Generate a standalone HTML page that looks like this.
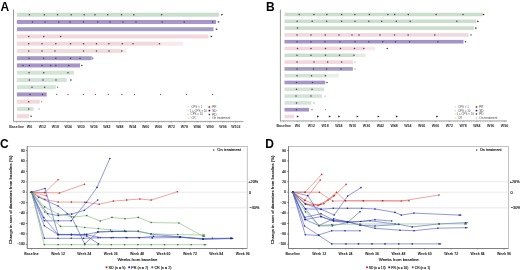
<!DOCTYPE html>
<html><head><meta charset="utf-8"><title>Figure</title>
<style>
html,body{margin:0;padding:0;background:#fff;}
body{width:520px;height:270px;overflow:hidden;}
svg{display:block;font-family:'Liberation Sans', Arial, sans-serif;}
</style></head>
<body>
<svg width="520" height="270" viewBox="0 0 520 270">
<rect x="0" y="0" width="520" height="270" fill="#fff"/>
<text x="0.60" y="10.70" font-size="12" text-anchor="start" fill="#000" font-weight="bold" >A</text>
<rect x="16.90" y="12.70" width="202.10" height="4.00" fill="#c9dfcc" />
<circle cx="29.40" cy="14.70" r="0.75" fill="#4a3a5a"/>
<circle cx="44.40" cy="14.70" r="0.75" fill="#4a3a5a"/>
<circle cx="57.50" cy="14.70" r="0.75" fill="#4a3a5a"/>
<circle cx="71.20" cy="14.70" r="0.75" fill="#4a3a5a"/>
<circle cx="84.20" cy="14.70" r="0.75" fill="#4a3a5a"/>
<circle cx="95.00" cy="14.70" r="0.75" fill="#4a3a5a"/>
<circle cx="107.70" cy="14.70" r="0.75" fill="#4a3a5a"/>
<circle cx="121.50" cy="14.70" r="0.75" fill="#4a3a5a"/>
<circle cx="133.80" cy="14.70" r="0.75" fill="#4a3a5a"/>
<circle cx="161.60" cy="14.70" r="0.75" fill="#4a3a5a"/>
<path d="M221.20,13.80 L223.30,14.70 L221.20,15.60 Z" fill="#222"/>
<rect x="16.90" y="19.95" width="199.10" height="4.00" fill="#a794cb" />
<circle cx="32.50" cy="21.95" r="0.75" fill="#4a3a5a"/>
<circle cx="45.00" cy="21.95" r="0.75" fill="#4a3a5a"/>
<circle cx="58.75" cy="21.95" r="0.75" fill="#4a3a5a"/>
<circle cx="70.00" cy="21.95" r="0.75" fill="#4a3a5a"/>
<circle cx="83.50" cy="21.95" r="0.75" fill="#4a3a5a"/>
<circle cx="97.70" cy="21.95" r="0.75" fill="#4a3a5a"/>
<circle cx="110.00" cy="21.95" r="0.75" fill="#4a3a5a"/>
<circle cx="123.00" cy="21.95" r="0.75" fill="#4a3a5a"/>
<circle cx="136.00" cy="21.95" r="0.75" fill="#4a3a5a"/>
<circle cx="162.20" cy="21.95" r="0.75" fill="#4a3a5a"/>
<circle cx="184.20" cy="21.95" r="0.75" fill="#4a3a5a"/>
<circle cx="212.70" cy="21.95" r="0.75" fill="#4a3a5a"/>
<path d="M217.80,21.05 L219.90,21.95 L217.80,22.85 Z" fill="#222"/>
<rect x="16.90" y="27.20" width="196.60" height="4.00" fill="#a59cc4" />
<path d="M215.80,28.30 L217.90,29.20 L215.80,30.10 Z" fill="#222"/>
<rect x="16.90" y="34.45" width="191.60" height="4.00" fill="#f3d7dd" />
<circle cx="28.75" cy="36.45" r="0.75" fill="#4a3a5a"/>
<circle cx="43.75" cy="36.45" r="0.75" fill="#4a3a5a"/>
<circle cx="60.60" cy="36.45" r="0.75" fill="#4a3a5a"/>
<path d="M210.60,35.55 L212.70,36.45 L210.60,37.35 Z" fill="#222"/>
<rect x="16.90" y="41.70" width="142.60" height="4.00" fill="#f3d7dd" />
<rect x="159.50" y="41.70" width="23.50" height="4.00" fill="#f8e9ec" />
<circle cx="28.70" cy="43.70" r="0.75" fill="#4a3a5a"/>
<circle cx="42.00" cy="43.70" r="0.75" fill="#4a3a5a"/>
<circle cx="55.80" cy="43.70" r="0.75" fill="#4a3a5a"/>
<circle cx="70.50" cy="43.70" r="0.75" fill="#4a3a5a"/>
<circle cx="83.50" cy="43.70" r="0.75" fill="#4a3a5a"/>
<circle cx="96.50" cy="43.70" r="0.75" fill="#4a3a5a"/>
<circle cx="108.90" cy="43.70" r="0.75" fill="#4a3a5a"/>
<circle cx="122.30" cy="43.70" r="0.75" fill="#4a3a5a"/>
<circle cx="133.00" cy="43.70" r="0.75" fill="#4a3a5a"/>
<circle cx="159.50" cy="43.70" r="0.75" fill="#4a3a5a"/>
<rect x="16.90" y="48.95" width="104.90" height="4.00" fill="#f2dcd9" />
<rect x="121.80" y="48.95" width="4.60" height="4.00" fill="#f7ebea" />
<circle cx="28.70" cy="50.95" r="0.75" fill="#4a3a5a"/>
<circle cx="42.00" cy="50.95" r="0.75" fill="#4a3a5a"/>
<circle cx="55.00" cy="50.95" r="0.75" fill="#4a3a5a"/>
<circle cx="83.50" cy="50.95" r="0.75" fill="#4a3a5a"/>
<circle cx="96.50" cy="50.95" r="0.75" fill="#4a3a5a"/>
<circle cx="109.00" cy="50.95" r="0.75" fill="#4a3a5a"/>
<circle cx="121.80" cy="50.95" r="0.75" fill="#4a3a5a"/>
<rect x="16.90" y="56.20" width="74.60" height="4.00" fill="#a59cc4" />
<circle cx="29.00" cy="58.20" r="0.75" fill="#4a3a5a"/>
<circle cx="43.70" cy="58.20" r="0.75" fill="#4a3a5a"/>
<circle cx="55.80" cy="58.20" r="0.75" fill="#4a3a5a"/>
<circle cx="70.50" cy="58.20" r="0.75" fill="#4a3a5a"/>
<circle cx="80.00" cy="58.20" r="0.75" fill="#4a3a5a"/>
<path d="M91.50,56.20 L94.10,58.20 L91.50,60.20 Z" fill="#a59cc4"/>
<rect x="16.90" y="63.45" width="63.10" height="4.00" fill="#a794cb" />
<circle cx="23.00" cy="65.45" r="0.75" fill="#4a3a5a"/>
<circle cx="29.40" cy="65.45" r="0.75" fill="#4a3a5a"/>
<circle cx="42.00" cy="65.45" r="0.75" fill="#4a3a5a"/>
<circle cx="50.70" cy="65.45" r="0.75" fill="#4a3a5a"/>
<circle cx="55.80" cy="65.45" r="0.75" fill="#4a3a5a"/>
<circle cx="68.80" cy="65.45" r="0.75" fill="#4a3a5a"/>
<circle cx="81.80" cy="65.45" r="0.7" fill="#222"/>
<rect x="16.90" y="70.70" width="57.10" height="4.00" fill="#d2e4d5" />
<circle cx="29.00" cy="72.70" r="0.75" fill="#4a3a5a"/>
<circle cx="43.70" cy="72.70" r="0.75" fill="#4a3a5a"/>
<circle cx="68.00" cy="72.70" r="0.75" fill="#4a3a5a"/>
<rect x="16.90" y="77.95" width="49.80" height="4.00" fill="#d2e4d5" />
<circle cx="29.40" cy="79.95" r="0.75" fill="#4a3a5a"/>
<circle cx="43.00" cy="79.95" r="0.75" fill="#4a3a5a"/>
<circle cx="56.00" cy="79.95" r="0.75" fill="#4a3a5a"/>
<circle cx="70.90" cy="79.95" r="0.7" fill="#222"/>
<rect x="16.90" y="85.20" width="38.90" height="4.00" fill="#d2e4d5" />
<circle cx="32.00" cy="87.20" r="0.75" fill="#4a3a5a"/>
<circle cx="44.60" cy="87.20" r="0.75" fill="#4a3a5a"/>
<circle cx="57.60" cy="87.20" r="0.65" fill="#a83a50"/>
<rect x="16.90" y="92.45" width="29.80" height="4.00" fill="#a493c6" />
<circle cx="30.00" cy="94.45" r="0.75" fill="#4a3a5a"/>
<circle cx="42.50" cy="94.45" r="0.75" fill="#4a3a5a"/>
<circle cx="56.70" cy="94.45" r="0.65" fill="#a83a50"/>
<circle cx="68.00" cy="94.45" r="0.65" fill="#a83a50"/>
<circle cx="83.50" cy="94.45" r="0.65" fill="#a83a50"/>
<circle cx="95.40" cy="94.45" r="0.65" fill="#a83a50"/>
<circle cx="108.30" cy="94.45" r="0.65" fill="#a83a50"/>
<circle cx="121.80" cy="94.45" r="0.65" fill="#a83a50"/>
<circle cx="134.50" cy="94.45" r="0.65" fill="#a83a50"/>
<circle cx="160.60" cy="94.45" r="0.65" fill="#a83a50"/>
<circle cx="186.50" cy="94.45" r="0.65" fill="#a83a50"/>
<circle cx="212.60" cy="94.45" r="0.65" fill="#a83a50"/>
<rect x="16.90" y="99.70" width="22.90" height="4.00" fill="#f3d7dd" />
<circle cx="28.70" cy="101.70" r="0.75" fill="#4a3a5a"/>
<circle cx="41.70" cy="101.70" r="0.6" fill="#a08090"/>
<rect x="16.90" y="106.95" width="16.70" height="4.00" fill="#d2e4d5" />
<circle cx="28.70" cy="108.95" r="0.75" fill="#4a3a5a"/>
<circle cx="39.00" cy="108.95" r="0.6" fill="#a08090"/>
<rect x="16.90" y="114.20" width="12.10" height="4.00" fill="#f3d7dd" />
<circle cx="31.10" cy="116.20" r="0.7" fill="#222"/>
<line x1="13.5" y1="9.5" x2="13.5" y2="121.5" stroke="#555" stroke-width="0.6"/>
<line x1="13.5" y1="121.4" x2="243.5" y2="121.4" stroke="#666" stroke-width="0.6"/>
<line x1="13.5" y1="122.1" x2="243.5" y2="122.1" stroke="#9a9a9a" stroke-width="0.9" stroke-dasharray="0.5,1.65"/>
<line x1="16.60" y1="121.4" x2="16.60" y2="122.6" stroke="#666" stroke-width="0.5"/>
<text x="16.60" y="127.50" font-size="3.55" text-anchor="middle" fill="#2a2a2a" font-weight="bold" >Baseline</text>
<line x1="29.50" y1="121.4" x2="29.50" y2="122.6" stroke="#666" stroke-width="0.5"/>
<text x="29.50" y="127.50" font-size="3.55" text-anchor="middle" fill="#2a2a2a" font-weight="bold" >W6</text>
<line x1="42.40" y1="121.4" x2="42.40" y2="122.6" stroke="#666" stroke-width="0.5"/>
<text x="42.40" y="127.50" font-size="3.55" text-anchor="middle" fill="#2a2a2a" font-weight="bold" >W12</text>
<line x1="55.30" y1="121.4" x2="55.30" y2="122.6" stroke="#666" stroke-width="0.5"/>
<text x="55.30" y="127.50" font-size="3.55" text-anchor="middle" fill="#2a2a2a" font-weight="bold" >W18</text>
<line x1="68.20" y1="121.4" x2="68.20" y2="122.6" stroke="#666" stroke-width="0.5"/>
<text x="68.20" y="127.50" font-size="3.55" text-anchor="middle" fill="#2a2a2a" font-weight="bold" >W24</text>
<line x1="81.10" y1="121.4" x2="81.10" y2="122.6" stroke="#666" stroke-width="0.5"/>
<text x="81.10" y="127.50" font-size="3.55" text-anchor="middle" fill="#2a2a2a" font-weight="bold" >W30</text>
<line x1="94.00" y1="121.4" x2="94.00" y2="122.6" stroke="#666" stroke-width="0.5"/>
<text x="94.00" y="127.50" font-size="3.55" text-anchor="middle" fill="#2a2a2a" font-weight="bold" >W36</text>
<line x1="106.90" y1="121.4" x2="106.90" y2="122.6" stroke="#666" stroke-width="0.5"/>
<text x="106.90" y="127.50" font-size="3.55" text-anchor="middle" fill="#2a2a2a" font-weight="bold" >W42</text>
<line x1="119.80" y1="121.4" x2="119.80" y2="122.6" stroke="#666" stroke-width="0.5"/>
<text x="119.80" y="127.50" font-size="3.55" text-anchor="middle" fill="#2a2a2a" font-weight="bold" >W48</text>
<line x1="132.70" y1="121.4" x2="132.70" y2="122.6" stroke="#666" stroke-width="0.5"/>
<text x="132.70" y="127.50" font-size="3.55" text-anchor="middle" fill="#2a2a2a" font-weight="bold" >W54</text>
<line x1="145.60" y1="121.4" x2="145.60" y2="122.6" stroke="#666" stroke-width="0.5"/>
<text x="145.60" y="127.50" font-size="3.55" text-anchor="middle" fill="#2a2a2a" font-weight="bold" >W60</text>
<line x1="158.50" y1="121.4" x2="158.50" y2="122.6" stroke="#666" stroke-width="0.5"/>
<text x="158.50" y="127.50" font-size="3.55" text-anchor="middle" fill="#2a2a2a" font-weight="bold" >W66</text>
<line x1="171.40" y1="121.4" x2="171.40" y2="122.6" stroke="#666" stroke-width="0.5"/>
<text x="171.40" y="127.50" font-size="3.55" text-anchor="middle" fill="#2a2a2a" font-weight="bold" >W72</text>
<line x1="184.30" y1="121.4" x2="184.30" y2="122.6" stroke="#666" stroke-width="0.5"/>
<text x="184.30" y="127.50" font-size="3.55" text-anchor="middle" fill="#2a2a2a" font-weight="bold" >W78</text>
<line x1="197.20" y1="121.4" x2="197.20" y2="122.6" stroke="#666" stroke-width="0.5"/>
<text x="197.20" y="127.50" font-size="3.55" text-anchor="middle" fill="#2a2a2a" font-weight="bold" >W84</text>
<line x1="210.10" y1="121.4" x2="210.10" y2="122.6" stroke="#666" stroke-width="0.5"/>
<text x="210.10" y="127.50" font-size="3.55" text-anchor="middle" fill="#2a2a2a" font-weight="bold" >W90</text>
<line x1="223.00" y1="121.4" x2="223.00" y2="122.6" stroke="#666" stroke-width="0.5"/>
<text x="223.00" y="127.50" font-size="3.55" text-anchor="middle" fill="#2a2a2a" font-weight="bold" >W96</text>
<line x1="235.90" y1="121.4" x2="235.90" y2="122.6" stroke="#666" stroke-width="0.5"/>
<text x="235.90" y="127.50" font-size="3.55" text-anchor="middle" fill="#2a2a2a" font-weight="bold" >W102</text>
<rect x="187.20" y="106.00" width="1.80" height="1.80" fill="#e4ece4" />
<text x="191.20" y="107.90" font-size="2.9" text-anchor="start" fill="#555" font-weight="normal" >CPS &lt; 1</text>
<rect x="186.90" y="109.70" width="1.80" height="1.80" fill="#f4e4ea" />
<text x="189.70" y="111.60" font-size="2.9" text-anchor="start" fill="#555" font-weight="normal" >1 ≤ CPS &lt; 10</text>
<rect x="187.10" y="113.50" width="1.80" height="1.80" fill="#e2dcec" />
<text x="190.60" y="115.40" font-size="2.9" text-anchor="start" fill="#555" font-weight="normal" >CPS ≥ 10</text>
<rect x="187.70" y="117.20" width="1.80" height="1.80" fill="#eef0a8" />
<text x="191.50" y="119.10" font-size="2.9" text-anchor="start" fill="#555" font-weight="normal" >CR</text>
<circle cx="209.40" cy="106.90" r="0.95" fill="#b03018"/>
<text x="212.20" y="108.00" font-size="3.1" text-anchor="start" fill="#444" font-weight="normal" >PR</text>
<circle cx="209.40" cy="110.60" r="0.95" fill="#1a1a8a"/>
<text x="212.20" y="111.70" font-size="3.1" text-anchor="start" fill="#444" font-weight="normal" >SD</text>
<path d="M208.40,114.40 L209.40,113.40 L210.40,114.40 L209.40,115.40 Z" fill="#444"/>
<text x="212.20" y="115.50" font-size="3.1" text-anchor="start" fill="#444" font-weight="normal" >PD</text>
<circle cx="209.40" cy="118.10" r="0.45" fill="#333"/>
<text x="212.20" y="119.20" font-size="3.1" text-anchor="start" fill="#444" font-weight="normal" >On treatment</text>
<text x="266.00" y="10.70" font-size="12" text-anchor="start" fill="#000" font-weight="bold" >B</text>
<rect x="284.50" y="12.70" width="197.50" height="3.60" fill="#c9dfcc" />
<circle cx="299.20" cy="14.50" r="0.75" fill="#4a3a5a"/>
<circle cx="313.90" cy="14.50" r="0.75" fill="#4a3a5a"/>
<circle cx="326.90" cy="14.50" r="0.75" fill="#4a3a5a"/>
<circle cx="341.60" cy="14.50" r="0.75" fill="#4a3a5a"/>
<circle cx="354.90" cy="14.50" r="0.75" fill="#4a3a5a"/>
<circle cx="369.40" cy="14.50" r="0.75" fill="#4a3a5a"/>
<circle cx="387.90" cy="14.50" r="0.75" fill="#4a3a5a"/>
<circle cx="394.60" cy="14.50" r="0.75" fill="#4a3a5a"/>
<circle cx="408.30" cy="14.50" r="0.75" fill="#4a3a5a"/>
<circle cx="436.10" cy="14.50" r="0.75" fill="#4a3a5a"/>
<circle cx="463.00" cy="14.50" r="0.75" fill="#4a3a5a"/>
<path d="M482.70,13.60 L484.80,14.50 L482.70,15.40 Z" fill="#222"/>
<rect x="284.50" y="19.50" width="191.90" height="3.60" fill="#c9dfcc" />
<circle cx="297.10" cy="21.30" r="0.75" fill="#4a3a5a"/>
<circle cx="312.20" cy="21.30" r="0.75" fill="#4a3a5a"/>
<circle cx="326.60" cy="21.30" r="0.75" fill="#4a3a5a"/>
<circle cx="341.60" cy="21.30" r="0.75" fill="#4a3a5a"/>
<circle cx="355.00" cy="21.30" r="0.75" fill="#4a3a5a"/>
<circle cx="368.80" cy="21.30" r="0.75" fill="#4a3a5a"/>
<circle cx="381.70" cy="21.30" r="0.75" fill="#4a3a5a"/>
<circle cx="396.30" cy="21.30" r="0.75" fill="#4a3a5a"/>
<circle cx="410.20" cy="21.30" r="0.75" fill="#4a3a5a"/>
<circle cx="456.80" cy="21.30" r="0.75" fill="#4a3a5a"/>
<path d="M477.20,20.40 L479.30,21.30 L477.20,22.20 Z" fill="#222"/>
<rect x="284.50" y="26.30" width="189.50" height="3.60" fill="#c9dfcc" />
<circle cx="297.50" cy="28.10" r="0.75" fill="#4a3a5a"/>
<path d="M475.10,27.20 L477.20,28.10 L475.10,29.00 Z" fill="#222"/>
<rect x="284.50" y="33.10" width="184.10" height="3.60" fill="#f3d7dd" />
<circle cx="297.00" cy="34.90" r="0.75" fill="#4a3a5a"/>
<circle cx="311.00" cy="34.90" r="0.75" fill="#4a3a5a"/>
<circle cx="325.20" cy="34.90" r="0.75" fill="#4a3a5a"/>
<circle cx="339.00" cy="34.90" r="0.75" fill="#4a3a5a"/>
<circle cx="352.00" cy="34.90" r="0.75" fill="#4a3a5a"/>
<circle cx="359.00" cy="34.90" r="0.75" fill="#4a3a5a"/>
<circle cx="380.00" cy="34.90" r="0.75" fill="#4a3a5a"/>
<circle cx="394.50" cy="34.90" r="0.75" fill="#4a3a5a"/>
<circle cx="408.10" cy="34.90" r="0.75" fill="#4a3a5a"/>
<circle cx="434.80" cy="34.90" r="0.75" fill="#4a3a5a"/>
<circle cx="471.00" cy="34.90" r="0.7" fill="#222"/>
<rect x="284.50" y="39.90" width="179.00" height="3.60" fill="#a493c6" />
<circle cx="297.00" cy="41.70" r="0.75" fill="#4a3a5a"/>
<circle cx="311.00" cy="41.70" r="0.75" fill="#4a3a5a"/>
<circle cx="325.00" cy="41.70" r="0.75" fill="#4a3a5a"/>
<circle cx="340.00" cy="41.70" r="0.75" fill="#4a3a5a"/>
<circle cx="355.00" cy="41.70" r="0.75" fill="#4a3a5a"/>
<circle cx="368.80" cy="41.70" r="0.75" fill="#4a3a5a"/>
<circle cx="382.80" cy="41.70" r="0.75" fill="#4a3a5a"/>
<circle cx="395.50" cy="41.70" r="0.75" fill="#4a3a5a"/>
<circle cx="409.60" cy="41.70" r="0.75" fill="#4a3a5a"/>
<circle cx="437.90" cy="41.70" r="0.75" fill="#4a3a5a"/>
<circle cx="465.50" cy="41.70" r="0.7" fill="#222"/>
<rect x="284.50" y="46.70" width="80.00" height="3.60" fill="#f3d7dd" />
<rect x="364.50" y="46.70" width="10.50" height="3.60" fill="#f8e9ec" />
<circle cx="297.50" cy="48.50" r="0.75" fill="#4a3a5a"/>
<circle cx="311.00" cy="48.50" r="0.75" fill="#4a3a5a"/>
<circle cx="325.50" cy="48.50" r="0.75" fill="#4a3a5a"/>
<circle cx="340.50" cy="48.50" r="0.75" fill="#4a3a5a"/>
<circle cx="354.50" cy="48.50" r="0.75" fill="#4a3a5a"/>
<circle cx="363.90" cy="48.50" r="0.75" fill="#4a3a5a"/>
<circle cx="387.20" cy="48.50" r="0.7" fill="#222"/>
<rect x="284.50" y="53.50" width="70.00" height="3.60" fill="#c9dfcc" />
<rect x="354.50" y="53.50" width="11.20" height="3.60" fill="#e1ede2" />
<circle cx="297.00" cy="55.30" r="0.75" fill="#4a3a5a"/>
<circle cx="311.00" cy="55.30" r="0.75" fill="#4a3a5a"/>
<circle cx="325.50" cy="55.30" r="0.75" fill="#4a3a5a"/>
<circle cx="339.50" cy="55.30" r="0.75" fill="#4a3a5a"/>
<circle cx="354.00" cy="55.30" r="0.75" fill="#4a3a5a"/>
<rect x="284.50" y="60.30" width="68.40" height="3.60" fill="#f3d7dd" />
<circle cx="297.00" cy="62.10" r="0.75" fill="#4a3a5a"/>
<circle cx="314.00" cy="62.10" r="0.75" fill="#4a3a5a"/>
<circle cx="327.60" cy="62.10" r="0.75" fill="#4a3a5a"/>
<circle cx="341.60" cy="62.10" r="0.75" fill="#4a3a5a"/>
<circle cx="355.00" cy="62.10" r="0.6" fill="#a08090"/>
<rect x="284.50" y="67.10" width="68.40" height="3.60" fill="#a59cc4" />
<circle cx="297.00" cy="68.90" r="0.75" fill="#4a3a5a"/>
<circle cx="313.50" cy="68.90" r="0.75" fill="#4a3a5a"/>
<circle cx="326.50" cy="68.90" r="0.75" fill="#4a3a5a"/>
<circle cx="341.00" cy="68.90" r="0.75" fill="#4a3a5a"/>
<circle cx="355.00" cy="68.90" r="0.6" fill="#a08090"/>
<rect x="284.50" y="73.90" width="41.50" height="3.60" fill="#d2e4d5" />
<rect x="326.00" y="73.90" width="12.70" height="3.60" fill="#e6f0e7" />
<circle cx="297.00" cy="75.70" r="0.75" fill="#4a3a5a"/>
<circle cx="311.50" cy="75.70" r="0.75" fill="#4a3a5a"/>
<circle cx="325.50" cy="75.70" r="0.75" fill="#4a3a5a"/>
<rect x="284.50" y="80.70" width="40.70" height="3.60" fill="#a794cb" />
<circle cx="296.50" cy="82.50" r="0.75" fill="#4a3a5a"/>
<circle cx="312.50" cy="82.50" r="0.75" fill="#4a3a5a"/>
<circle cx="327.00" cy="82.50" r="0.7" fill="#222"/>
<rect x="284.50" y="87.50" width="39.80" height="3.60" fill="#d2e4d5" />
<circle cx="296.50" cy="89.30" r="0.75" fill="#4a3a5a"/>
<circle cx="312.00" cy="89.30" r="0.75" fill="#4a3a5a"/>
<rect x="284.50" y="94.30" width="37.50" height="3.60" fill="#d2e4d5" />
<circle cx="296.00" cy="96.10" r="0.75" fill="#4a3a5a"/>
<circle cx="311.00" cy="96.10" r="0.75" fill="#4a3a5a"/>
<circle cx="325.00" cy="96.10" r="0.6" fill="#a08090"/>
<rect x="284.50" y="101.10" width="26.80" height="3.60" fill="#d2e4d5" />
<circle cx="296.50" cy="102.90" r="0.75" fill="#4a3a5a"/>
<circle cx="314.00" cy="102.90" r="0.6" fill="#a08090"/>
<rect x="284.50" y="107.90" width="24.50" height="3.60" fill="#a493c6" />
<circle cx="296.50" cy="109.70" r="0.75" fill="#4a3a5a"/>
<circle cx="312.00" cy="109.70" r="0.65" fill="#a83a50"/>
<circle cx="325.50" cy="109.70" r="0.6" fill="#a08090"/>
<rect x="284.50" y="114.70" width="9.50" height="3.60" fill="#f3d7dd" />
<path d="M296.90,115.60 L299.00,116.50 L296.90,117.40 Z" fill="#222"/>
<path d="M317.00,115.60 L319.10,116.50 L317.00,117.40 Z" fill="#222"/>
<path d="M328.90,115.60 L331.00,116.50 L328.90,117.40 Z" fill="#222"/>
<path d="M338.20,115.60 L340.30,116.50 L338.20,117.40 Z" fill="#222"/>
<path d="M356.60,115.60 L358.70,116.50 L356.60,117.40 Z" fill="#222"/>
<path d="M377.60,115.60 L379.70,116.50 L377.60,117.40 Z" fill="#222"/>
<path d="M395.90,115.60 L398.00,116.50 L395.90,117.40 Z" fill="#222"/>
<path d="M436.20,115.60 L438.30,116.50 L436.20,117.40 Z" fill="#222"/>
<line x1="280.4" y1="9.5" x2="280.4" y2="121" stroke="#555" stroke-width="0.6"/>
<line x1="280.4" y1="120.9" x2="507" y2="120.9" stroke="#666" stroke-width="0.6"/>
<line x1="280.4" y1="121.6" x2="507" y2="121.6" stroke="#9a9a9a" stroke-width="0.9" stroke-dasharray="0.5,1.8"/>
<line x1="283.70" y1="120.9" x2="283.70" y2="122.1" stroke="#666" stroke-width="0.5"/>
<text x="283.70" y="127.10" font-size="3.55" text-anchor="middle" fill="#2a2a2a" font-weight="bold" >Baseline</text>
<line x1="297.50" y1="120.9" x2="297.50" y2="122.1" stroke="#666" stroke-width="0.5"/>
<text x="297.50" y="127.10" font-size="3.55" text-anchor="middle" fill="#2a2a2a" font-weight="bold" >W6</text>
<line x1="311.30" y1="120.9" x2="311.30" y2="122.1" stroke="#666" stroke-width="0.5"/>
<text x="311.30" y="127.10" font-size="3.55" text-anchor="middle" fill="#2a2a2a" font-weight="bold" >W12</text>
<line x1="325.10" y1="120.9" x2="325.10" y2="122.1" stroke="#666" stroke-width="0.5"/>
<text x="325.10" y="127.10" font-size="3.55" text-anchor="middle" fill="#2a2a2a" font-weight="bold" >W18</text>
<line x1="338.90" y1="120.9" x2="338.90" y2="122.1" stroke="#666" stroke-width="0.5"/>
<text x="338.90" y="127.10" font-size="3.55" text-anchor="middle" fill="#2a2a2a" font-weight="bold" >W24</text>
<line x1="352.70" y1="120.9" x2="352.70" y2="122.1" stroke="#666" stroke-width="0.5"/>
<text x="352.70" y="127.10" font-size="3.55" text-anchor="middle" fill="#2a2a2a" font-weight="bold" >W30</text>
<line x1="366.50" y1="120.9" x2="366.50" y2="122.1" stroke="#666" stroke-width="0.5"/>
<text x="366.50" y="127.10" font-size="3.55" text-anchor="middle" fill="#2a2a2a" font-weight="bold" >W36</text>
<line x1="380.30" y1="120.9" x2="380.30" y2="122.1" stroke="#666" stroke-width="0.5"/>
<text x="380.30" y="127.10" font-size="3.55" text-anchor="middle" fill="#2a2a2a" font-weight="bold" >W42</text>
<line x1="394.10" y1="120.9" x2="394.10" y2="122.1" stroke="#666" stroke-width="0.5"/>
<text x="394.10" y="127.10" font-size="3.55" text-anchor="middle" fill="#2a2a2a" font-weight="bold" >W48</text>
<line x1="407.90" y1="120.9" x2="407.90" y2="122.1" stroke="#666" stroke-width="0.5"/>
<text x="407.90" y="127.10" font-size="3.55" text-anchor="middle" fill="#2a2a2a" font-weight="bold" >W54</text>
<line x1="421.70" y1="120.9" x2="421.70" y2="122.1" stroke="#666" stroke-width="0.5"/>
<text x="421.70" y="127.10" font-size="3.55" text-anchor="middle" fill="#2a2a2a" font-weight="bold" >W60</text>
<line x1="435.50" y1="120.9" x2="435.50" y2="122.1" stroke="#666" stroke-width="0.5"/>
<text x="435.50" y="127.10" font-size="3.55" text-anchor="middle" fill="#2a2a2a" font-weight="bold" >W66</text>
<line x1="449.30" y1="120.9" x2="449.30" y2="122.1" stroke="#666" stroke-width="0.5"/>
<text x="449.30" y="127.10" font-size="3.55" text-anchor="middle" fill="#2a2a2a" font-weight="bold" >W72</text>
<line x1="463.10" y1="120.9" x2="463.10" y2="122.1" stroke="#666" stroke-width="0.5"/>
<text x="463.10" y="127.10" font-size="3.55" text-anchor="middle" fill="#2a2a2a" font-weight="bold" >W78</text>
<line x1="476.90" y1="120.9" x2="476.90" y2="122.1" stroke="#666" stroke-width="0.5"/>
<text x="476.90" y="127.10" font-size="3.55" text-anchor="middle" fill="#2a2a2a" font-weight="bold" >W84</text>
<line x1="490.70" y1="120.9" x2="490.70" y2="122.1" stroke="#666" stroke-width="0.5"/>
<text x="490.70" y="127.10" font-size="3.55" text-anchor="middle" fill="#2a2a2a" font-weight="bold" >W90</text>
<line x1="504.50" y1="120.9" x2="504.50" y2="122.1" stroke="#666" stroke-width="0.5"/>
<text x="504.50" y="127.10" font-size="3.55" text-anchor="middle" fill="#2a2a2a" font-weight="bold" >W96</text>
<rect x="454.40" y="106.00" width="1.80" height="1.80" fill="#e4ece4" />
<text x="458.00" y="107.90" font-size="2.9" text-anchor="start" fill="#555" font-weight="normal" >CPS &lt; 1</text>
<rect x="454.40" y="109.70" width="1.80" height="1.80" fill="#e2dcec" />
<text x="458.00" y="111.60" font-size="2.9" text-anchor="start" fill="#555" font-weight="normal" >CPS ≥ 10</text>
<rect x="454.40" y="113.20" width="1.80" height="1.80" fill="#f4e4ea" />
<text x="456.60" y="115.10" font-size="2.9" text-anchor="start" fill="#555" font-weight="normal" >1 ≤ CPS &lt; 10</text>
<rect x="454.70" y="117.10" width="1.80" height="1.80" fill="#eef0a8" />
<text x="458.00" y="119.00" font-size="2.9" text-anchor="start" fill="#555" font-weight="normal" >CR</text>
<circle cx="476.50" cy="106.90" r="0.95" fill="#b03018"/>
<text x="479.30" y="108.00" font-size="3.1" text-anchor="start" fill="#444" font-weight="normal" >PR</text>
<circle cx="476.50" cy="110.60" r="0.95" fill="#1a1a8a"/>
<text x="479.30" y="111.70" font-size="3.1" text-anchor="start" fill="#444" font-weight="normal" >SD</text>
<path d="M475.50,114.10 L476.50,113.10 L477.50,114.10 L476.50,115.10 Z" fill="#444"/>
<text x="479.30" y="115.20" font-size="3.1" text-anchor="start" fill="#444" font-weight="normal" >PD</text>
<circle cx="476.50" cy="118.00" r="0.45" fill="#333"/>
<text x="479.30" y="119.10" font-size="3.1" text-anchor="start" fill="#444" font-weight="normal" >On treatment</text>
<text x="0.00" y="148.20" font-size="12" text-anchor="start" fill="#000" font-weight="bold" >C</text>
<rect x="27.20" y="146.40" width="220.00" height="102.10" fill="none" stroke="#999" stroke-width="0.6"/>
<line x1="27.20" y1="146.40" x2="27.20" y2="248.50" stroke="#555" stroke-width="0.6"/>
<line x1="27.20" y1="248.50" x2="247.20" y2="248.50" stroke="#555" stroke-width="0.6"/>
<line x1="27.20" y1="181.78" x2="247.20" y2="181.78" stroke="#e0e0e0" stroke-width="0.7"/>
<line x1="27.20" y1="192.20" x2="247.20" y2="192.20" stroke="#e0e0e0" stroke-width="0.7"/>
<line x1="27.20" y1="207.83" x2="247.20" y2="207.83" stroke="#e0e0e0" stroke-width="0.7"/>
<line x1="25.90" y1="150.52" x2="27.20" y2="150.52" stroke="#333" stroke-width="0.6"/>
<text x="24.60" y="151.67" font-size="3.3" text-anchor="end" fill="#111" font-weight="normal" stroke="#111" stroke-width="0.12">80</text>
<line x1="25.90" y1="160.94" x2="27.20" y2="160.94" stroke="#333" stroke-width="0.6"/>
<text x="24.60" y="162.09" font-size="3.3" text-anchor="end" fill="#111" font-weight="normal" stroke="#111" stroke-width="0.12">60</text>
<line x1="25.90" y1="171.36" x2="27.20" y2="171.36" stroke="#333" stroke-width="0.6"/>
<text x="24.60" y="172.51" font-size="3.3" text-anchor="end" fill="#111" font-weight="normal" stroke="#111" stroke-width="0.12">40</text>
<line x1="25.90" y1="181.78" x2="27.20" y2="181.78" stroke="#333" stroke-width="0.6"/>
<text x="24.60" y="182.93" font-size="3.3" text-anchor="end" fill="#111" font-weight="normal" stroke="#111" stroke-width="0.12">20</text>
<line x1="25.90" y1="192.20" x2="27.20" y2="192.20" stroke="#333" stroke-width="0.6"/>
<text x="24.60" y="193.35" font-size="3.3" text-anchor="end" fill="#111" font-weight="normal" stroke="#111" stroke-width="0.12">0</text>
<line x1="25.90" y1="202.62" x2="27.20" y2="202.62" stroke="#333" stroke-width="0.6"/>
<text x="24.60" y="203.77" font-size="3.3" text-anchor="end" fill="#111" font-weight="normal" stroke="#111" stroke-width="0.12">−20</text>
<line x1="25.90" y1="213.04" x2="27.20" y2="213.04" stroke="#333" stroke-width="0.6"/>
<text x="24.60" y="214.19" font-size="3.3" text-anchor="end" fill="#111" font-weight="normal" stroke="#111" stroke-width="0.12">−40</text>
<line x1="25.90" y1="223.46" x2="27.20" y2="223.46" stroke="#333" stroke-width="0.6"/>
<text x="24.60" y="224.61" font-size="3.3" text-anchor="end" fill="#111" font-weight="normal" stroke="#111" stroke-width="0.12">−60</text>
<line x1="25.90" y1="233.88" x2="27.20" y2="233.88" stroke="#333" stroke-width="0.6"/>
<text x="24.60" y="235.03" font-size="3.3" text-anchor="end" fill="#111" font-weight="normal" stroke="#111" stroke-width="0.12">−80</text>
<line x1="25.90" y1="244.30" x2="27.20" y2="244.30" stroke="#333" stroke-width="0.6"/>
<text x="24.60" y="245.45" font-size="3.3" text-anchor="end" fill="#111" font-weight="normal" stroke="#111" stroke-width="0.12">−100</text>
<line x1="31.50" y1="248.50" x2="31.50" y2="249.70" stroke="#555" stroke-width="0.5"/>
<text x="31.50" y="254.70" font-size="3.5" text-anchor="middle" fill="#111" font-weight="bold" >Baseline</text>
<line x1="57.90" y1="248.50" x2="57.90" y2="249.70" stroke="#555" stroke-width="0.5"/>
<text x="57.90" y="254.70" font-size="3.5" text-anchor="middle" fill="#111" font-weight="bold" >Week 12</text>
<line x1="84.30" y1="248.50" x2="84.30" y2="249.70" stroke="#555" stroke-width="0.5"/>
<text x="84.30" y="254.70" font-size="3.5" text-anchor="middle" fill="#111" font-weight="bold" >Week 24</text>
<line x1="110.70" y1="248.50" x2="110.70" y2="249.70" stroke="#555" stroke-width="0.5"/>
<text x="110.70" y="254.70" font-size="3.5" text-anchor="middle" fill="#111" font-weight="bold" >Week 36</text>
<line x1="137.10" y1="248.50" x2="137.10" y2="249.70" stroke="#555" stroke-width="0.5"/>
<text x="137.10" y="254.70" font-size="3.5" text-anchor="middle" fill="#111" font-weight="bold" >Week 48</text>
<line x1="163.50" y1="248.50" x2="163.50" y2="249.70" stroke="#555" stroke-width="0.5"/>
<text x="163.50" y="254.70" font-size="3.5" text-anchor="middle" fill="#111" font-weight="bold" >Week 60</text>
<line x1="189.90" y1="248.50" x2="189.90" y2="249.70" stroke="#555" stroke-width="0.5"/>
<text x="189.90" y="254.70" font-size="3.5" text-anchor="middle" fill="#111" font-weight="bold" >Week 72</text>
<line x1="216.30" y1="248.50" x2="216.30" y2="249.70" stroke="#555" stroke-width="0.5"/>
<text x="216.30" y="254.70" font-size="3.5" text-anchor="middle" fill="#111" font-weight="bold" >Week 84</text>
<line x1="242.70" y1="248.50" x2="242.70" y2="249.70" stroke="#555" stroke-width="0.5"/>
<text x="242.70" y="254.70" font-size="3.5" text-anchor="middle" fill="#111" font-weight="bold" >Week 96</text>
<text x="137.40" y="261.00" font-size="4.3" text-anchor="middle" fill="#111" font-weight="normal" stroke="#111" stroke-width="0.12">Weeks from baseline</text>
<text x="0" y="0" font-size="4.3" text-anchor="middle" fill="#111" stroke="#111" stroke-width="0.12" transform="translate(12.45,199.8) rotate(-90)">Change in sum of diameters from baseline (%)</text>
<text x="248.40" y="183.08" font-size="3.8" text-anchor="start" fill="#111" font-weight="normal" stroke="#111" stroke-width="0.12">+20%</text>
<text x="249.10" y="193.50" font-size="3.8" text-anchor="start" fill="#111" font-weight="normal" stroke="#111" stroke-width="0.12">0</text>
<text x="249.50" y="209.13" font-size="3.8" text-anchor="start" fill="#111" font-weight="normal" stroke="#111" stroke-width="0.12">−30%</text>
<circle cx="213.70" cy="150.00" r="0.75" fill="#333"/>
<text x="217.30" y="151.45" font-size="4.1" text-anchor="start" fill="#111" font-weight="normal" stroke="#111" stroke-width="0.12">On treatment</text>
<polyline points="31.50,192.20 44.80,192.60 58.10,179.70" fill="none" stroke="#e46a5c" stroke-width="0.6" stroke-linejoin="round" />
<circle cx="31.50" cy="192.20" r="0.8" fill="#c02828"/>
<circle cx="44.80" cy="192.60" r="0.8" fill="#c02828"/>
<circle cx="58.10" cy="179.70" r="0.8" fill="#c02828"/>
<polyline points="31.50,192.20 44.80,192.60 59.50,193.00 84.50,184.20" fill="none" stroke="#e46a5c" stroke-width="0.6" stroke-linejoin="round" />
<circle cx="31.50" cy="192.20" r="0.8" fill="#c02828"/>
<circle cx="44.80" cy="192.60" r="0.8" fill="#c02828"/>
<circle cx="59.50" cy="193.00" r="0.8" fill="#c02828"/>
<circle cx="84.50" cy="184.20" r="0.8" fill="#c02828"/>
<polyline points="31.50,192.20 44.80,199.40 58.10,202.10 71.40,202.10 84.70,202.20 99.20,204.20 113.40,201.10 126.70,200.00 139.90,199.00 151.10,200.10 177.40,191.70" fill="none" stroke="#e46a5c" stroke-width="0.6" stroke-linejoin="round" />
<circle cx="31.50" cy="192.20" r="0.8" fill="#c02828"/>
<circle cx="44.80" cy="199.40" r="0.8" fill="#c02828"/>
<circle cx="58.10" cy="202.10" r="0.8" fill="#c02828"/>
<circle cx="71.40" cy="202.10" r="0.8" fill="#c02828"/>
<circle cx="84.70" cy="202.20" r="0.8" fill="#c02828"/>
<circle cx="99.20" cy="204.20" r="0.8" fill="#c02828"/>
<circle cx="113.40" cy="201.10" r="0.8" fill="#c02828"/>
<circle cx="126.70" cy="200.00" r="0.8" fill="#c02828"/>
<circle cx="139.90" cy="199.00" r="0.8" fill="#c02828"/>
<circle cx="151.10" cy="200.10" r="0.8" fill="#c02828"/>
<circle cx="177.40" cy="191.70" r="0.8" fill="#c02828"/>
<polyline points="31.50,192.20 46.30,195.80" fill="none" stroke="#e46a5c" stroke-width="0.6" stroke-linejoin="round" />
<circle cx="31.50" cy="192.20" r="0.8" fill="#c02828"/>
<circle cx="46.30" cy="195.80" r="0.8" fill="#c02828"/>
<polyline points="31.50,192.20 45.00,188.50 58.10,234.40 71.40,234.40 84.70,234.40 100.40,237.50 113.20,237.50 126.00,237.50 138.70,237.50 152.20,237.90 180.00,237.50 203.10,238.50 212.40,238.30 230.90,238.30" fill="none" stroke="#4555c0" stroke-width="0.6" stroke-linejoin="round" />
<circle cx="31.50" cy="192.20" r="0.8" fill="#1c2490"/>
<circle cx="45.00" cy="188.50" r="0.8" fill="#1c2490"/>
<circle cx="58.10" cy="234.40" r="0.8" fill="#1c2490"/>
<circle cx="71.40" cy="234.40" r="0.8" fill="#1c2490"/>
<circle cx="84.70" cy="234.40" r="0.8" fill="#1c2490"/>
<circle cx="100.40" cy="237.50" r="0.8" fill="#1c2490"/>
<circle cx="113.20" cy="237.50" r="0.8" fill="#1c2490"/>
<circle cx="126.00" cy="237.50" r="0.8" fill="#1c2490"/>
<circle cx="138.70" cy="237.50" r="0.8" fill="#1c2490"/>
<circle cx="152.20" cy="237.90" r="0.8" fill="#1c2490"/>
<circle cx="180.00" cy="237.50" r="0.8" fill="#1c2490"/>
<circle cx="203.10" cy="238.50" r="0.8" fill="#1c2490"/>
<circle cx="212.40" cy="238.30" r="0.8" fill="#1c2490"/>
<circle cx="230.90" cy="238.30" r="0.8" fill="#1c2490"/>
<path d="M231.62,237.49 L233.51,238.30 L231.62,239.11 Z" fill="#1c2490"/>
<polyline points="31.50,192.20 47.70,213.70 58.30,215.60 67.20,214.10 71.70,214.10 84.40,210.30 97.80,200.00" fill="none" stroke="#4555c0" stroke-width="0.6" stroke-linejoin="round" />
<circle cx="31.50" cy="192.20" r="0.8" fill="#1c2490"/>
<circle cx="47.70" cy="213.70" r="0.8" fill="#1c2490"/>
<circle cx="58.30" cy="215.60" r="0.8" fill="#1c2490"/>
<circle cx="67.20" cy="214.10" r="0.8" fill="#1c2490"/>
<circle cx="71.70" cy="214.10" r="0.8" fill="#1c2490"/>
<circle cx="84.40" cy="210.30" r="0.8" fill="#1c2490"/>
<circle cx="97.80" cy="200.00" r="0.8" fill="#1c2490"/>
<polyline points="31.50,192.20 44.30,220.80 58.30,220.80 71.20,220.80 86.50,202.20 97.00,187.40 109.80,158.60" fill="none" stroke="#4555c0" stroke-width="0.6" stroke-linejoin="round" />
<circle cx="31.50" cy="192.20" r="0.8" fill="#1c2490"/>
<circle cx="44.30" cy="220.80" r="0.8" fill="#1c2490"/>
<circle cx="58.30" cy="220.80" r="0.8" fill="#1c2490"/>
<circle cx="71.20" cy="220.80" r="0.8" fill="#1c2490"/>
<circle cx="86.50" cy="202.20" r="0.8" fill="#1c2490"/>
<circle cx="97.00" cy="187.40" r="0.8" fill="#1c2490"/>
<circle cx="109.80" cy="158.60" r="0.8" fill="#1c2490"/>
<polyline points="31.50,192.20 38.60,197.20 58.10,206.00 71.40,216.70 84.70,243.90 97.80,231.90 112.00,231.50 126.00,231.50 138.30,231.50 151.00,234.00 180.00,236.90 203.10,239.20 230.90,238.60" fill="none" stroke="#4555c0" stroke-width="0.6" stroke-linejoin="round" />
<circle cx="31.50" cy="192.20" r="0.8" fill="#1c2490"/>
<circle cx="38.60" cy="197.20" r="0.8" fill="#1c2490"/>
<circle cx="58.10" cy="206.00" r="0.8" fill="#1c2490"/>
<circle cx="71.40" cy="216.70" r="0.8" fill="#1c2490"/>
<circle cx="84.70" cy="243.90" r="0.8" fill="#1c2490"/>
<circle cx="97.80" cy="231.90" r="0.8" fill="#1c2490"/>
<circle cx="112.00" cy="231.50" r="0.8" fill="#1c2490"/>
<circle cx="126.00" cy="231.50" r="0.8" fill="#1c2490"/>
<circle cx="138.30" cy="231.50" r="0.8" fill="#1c2490"/>
<circle cx="151.00" cy="234.00" r="0.8" fill="#1c2490"/>
<circle cx="180.00" cy="236.90" r="0.8" fill="#1c2490"/>
<circle cx="203.10" cy="239.20" r="0.8" fill="#1c2490"/>
<circle cx="230.90" cy="238.60" r="0.8" fill="#1c2490"/>
<path d="M231.62,237.79 L233.51,238.60 L231.62,239.41 Z" fill="#1c2490"/>
<polyline points="31.50,192.20 44.30,225.80 58.00,234.70 71.40,234.70 86.70,236.00 98.60,243.90" fill="none" stroke="#4555c0" stroke-width="0.6" stroke-linejoin="round" />
<circle cx="31.50" cy="192.20" r="0.8" fill="#1c2490"/>
<circle cx="44.30" cy="225.80" r="0.8" fill="#1c2490"/>
<circle cx="58.00" cy="234.70" r="0.8" fill="#1c2490"/>
<circle cx="71.40" cy="234.70" r="0.8" fill="#1c2490"/>
<circle cx="86.70" cy="236.00" r="0.8" fill="#1c2490"/>
<circle cx="98.60" cy="243.90" r="0.8" fill="#1c2490"/>
<polyline points="31.50,192.20 44.30,238.30 58.00,238.30 71.20,238.30 83.50,238.30 98.00,237.80 111.30,237.80 127.00,237.80 139.60,237.80 153.50,236.20 180.00,236.90 203.10,239.20 230.90,238.30" fill="none" stroke="#4555c0" stroke-width="0.6" stroke-linejoin="round" />
<circle cx="31.50" cy="192.20" r="0.8" fill="#1c2490"/>
<circle cx="44.30" cy="238.30" r="0.8" fill="#1c2490"/>
<circle cx="58.00" cy="238.30" r="0.8" fill="#1c2490"/>
<circle cx="71.20" cy="238.30" r="0.8" fill="#1c2490"/>
<circle cx="83.50" cy="238.30" r="0.8" fill="#1c2490"/>
<circle cx="98.00" cy="237.80" r="0.8" fill="#1c2490"/>
<circle cx="111.30" cy="237.80" r="0.8" fill="#1c2490"/>
<circle cx="127.00" cy="237.80" r="0.8" fill="#1c2490"/>
<circle cx="139.60" cy="237.80" r="0.8" fill="#1c2490"/>
<circle cx="153.50" cy="236.20" r="0.8" fill="#1c2490"/>
<circle cx="180.00" cy="236.90" r="0.8" fill="#1c2490"/>
<circle cx="203.10" cy="239.20" r="0.8" fill="#1c2490"/>
<circle cx="230.90" cy="238.30" r="0.8" fill="#1c2490"/>
<path d="M231.62,237.49 L233.51,238.30 L231.62,239.11 Z" fill="#1c2490"/>
<polyline points="31.50,192.20 43.80,217.50 58.00,234.70 71.40,234.70 86.70,234.40 98.00,232.00 112.00,231.50 125.00,231.50" fill="none" stroke="#4555c0" stroke-width="0.6" stroke-linejoin="round" />
<circle cx="31.50" cy="192.20" r="0.8" fill="#1c2490"/>
<circle cx="43.80" cy="217.50" r="0.8" fill="#1c2490"/>
<circle cx="58.00" cy="234.70" r="0.8" fill="#1c2490"/>
<circle cx="71.40" cy="234.70" r="0.8" fill="#1c2490"/>
<circle cx="86.70" cy="234.40" r="0.8" fill="#1c2490"/>
<circle cx="98.00" cy="232.00" r="0.8" fill="#1c2490"/>
<circle cx="112.00" cy="231.50" r="0.8" fill="#1c2490"/>
<circle cx="125.00" cy="231.50" r="0.8" fill="#1c2490"/>
<polyline points="31.50,192.20 44.70,206.90 58.10,214.00 73.80,217.00 86.70,215.60 100.20,221.00 112.00,217.40 125.00,218.80 138.30,217.40 151.10,222.50 178.90,223.00 203.10,236.20" fill="none" stroke="#7cb870" stroke-width="0.6" stroke-linejoin="round" />
<circle cx="31.50" cy="192.20" r="0.8" fill="#2f6e2a"/>
<circle cx="44.70" cy="206.90" r="0.8" fill="#2f6e2a"/>
<circle cx="58.10" cy="214.00" r="0.8" fill="#2f6e2a"/>
<circle cx="73.80" cy="217.00" r="0.8" fill="#2f6e2a"/>
<circle cx="86.70" cy="215.60" r="0.8" fill="#2f6e2a"/>
<circle cx="100.20" cy="221.00" r="0.8" fill="#2f6e2a"/>
<circle cx="112.00" cy="217.40" r="0.8" fill="#2f6e2a"/>
<circle cx="125.00" cy="218.80" r="0.8" fill="#2f6e2a"/>
<circle cx="138.30" cy="217.40" r="0.8" fill="#2f6e2a"/>
<circle cx="151.10" cy="222.50" r="0.8" fill="#2f6e2a"/>
<circle cx="178.90" cy="223.00" r="0.8" fill="#2f6e2a"/>
<circle cx="203.10" cy="236.20" r="0.8" fill="#2f6e2a"/>
<path d="M203.82,235.39 L205.71,236.20 L203.82,237.01 Z" fill="#2f6e2a"/>
<polyline points="31.50,192.20 44.70,212.00 60.50,226.40 76.40,226.40 84.80,227.50 98.40,228.60 110.40,230.00 124.60,230.60 138.30,231.00 151.10,233.90 177.70,234.60 203.10,235.00" fill="none" stroke="#7cb870" stroke-width="0.6" stroke-linejoin="round" />
<circle cx="31.50" cy="192.20" r="0.8" fill="#2f6e2a"/>
<circle cx="44.70" cy="212.00" r="0.8" fill="#2f6e2a"/>
<circle cx="60.50" cy="226.40" r="0.8" fill="#2f6e2a"/>
<circle cx="76.40" cy="226.40" r="0.8" fill="#2f6e2a"/>
<circle cx="84.80" cy="227.50" r="0.8" fill="#2f6e2a"/>
<circle cx="98.40" cy="228.60" r="0.8" fill="#2f6e2a"/>
<circle cx="110.40" cy="230.00" r="0.8" fill="#2f6e2a"/>
<circle cx="124.60" cy="230.60" r="0.8" fill="#2f6e2a"/>
<circle cx="138.30" cy="231.00" r="0.8" fill="#2f6e2a"/>
<circle cx="151.10" cy="233.90" r="0.8" fill="#2f6e2a"/>
<circle cx="177.70" cy="234.60" r="0.8" fill="#2f6e2a"/>
<circle cx="203.10" cy="235.00" r="0.8" fill="#2f6e2a"/>
<path d="M203.82,234.19 L205.71,235.00 L203.82,235.81 Z" fill="#2f6e2a"/>
<polyline points="31.50,192.20 44.30,244.70 58.10,244.70 71.40,244.70 84.70,244.70 98.00,244.70 111.30,244.70 124.60,244.70 137.90,244.70 151.20,244.70 164.50,244.70 177.80,244.70 191.10,244.70 204.40,244.70" fill="none" stroke="#7cb870" stroke-width="0.6" stroke-linejoin="round" />
<circle cx="31.50" cy="192.20" r="0.8" fill="#2f6e2a"/>
<circle cx="44.30" cy="244.70" r="0.8" fill="#2f6e2a"/>
<circle cx="58.10" cy="244.70" r="0.8" fill="#2f6e2a"/>
<circle cx="71.40" cy="244.70" r="0.8" fill="#2f6e2a"/>
<circle cx="84.70" cy="244.70" r="0.8" fill="#2f6e2a"/>
<circle cx="98.00" cy="244.70" r="0.8" fill="#2f6e2a"/>
<circle cx="111.30" cy="244.70" r="0.8" fill="#2f6e2a"/>
<circle cx="124.60" cy="244.70" r="0.8" fill="#2f6e2a"/>
<circle cx="137.90" cy="244.70" r="0.8" fill="#2f6e2a"/>
<circle cx="151.20" cy="244.70" r="0.8" fill="#2f6e2a"/>
<circle cx="164.50" cy="244.70" r="0.8" fill="#2f6e2a"/>
<circle cx="177.80" cy="244.70" r="0.8" fill="#2f6e2a"/>
<circle cx="191.10" cy="244.70" r="0.8" fill="#2f6e2a"/>
<circle cx="204.40" cy="244.70" r="0.8" fill="#2f6e2a"/>
<path d="M205.12,243.89 L207.01,244.70 L205.12,245.51 Z" fill="#2f6e2a"/>
<rect x="105.60" y="266.40" width="1.80" height="1.80" fill="#c02828" />
<text x="108.60" y="268.60" font-size="3.7" text-anchor="start" fill="#111" font-weight="normal" stroke="#111" stroke-width="0.12">SD (n = 5)</text>
<rect x="128.30" y="266.40" width="1.80" height="1.80" fill="#1c2490" />
<text x="131.30" y="268.60" font-size="3.7" text-anchor="start" fill="#111" font-weight="normal" stroke="#111" stroke-width="0.12">PR (n = 7)</text>
<rect x="151.40" y="266.40" width="1.80" height="1.80" fill="#2f6e2a" />
<text x="154.40" y="268.60" font-size="3.7" text-anchor="start" fill="#111" font-weight="normal" stroke="#111" stroke-width="0.12">CR (n = 2)</text>
<text x="265.20" y="148.20" font-size="12" text-anchor="start" fill="#000" font-weight="bold" >D</text>
<rect x="288.50" y="146.40" width="220.00" height="102.10" fill="none" stroke="#999" stroke-width="0.6"/>
<line x1="288.50" y1="146.40" x2="288.50" y2="248.50" stroke="#555" stroke-width="0.6"/>
<line x1="288.50" y1="248.50" x2="508.50" y2="248.50" stroke="#555" stroke-width="0.6"/>
<line x1="288.50" y1="181.78" x2="508.50" y2="181.78" stroke="#e0e0e0" stroke-width="0.7"/>
<line x1="288.50" y1="192.20" x2="508.50" y2="192.20" stroke="#e0e0e0" stroke-width="0.7"/>
<line x1="288.50" y1="207.83" x2="508.50" y2="207.83" stroke="#e0e0e0" stroke-width="0.7"/>
<line x1="287.20" y1="150.52" x2="288.50" y2="150.52" stroke="#333" stroke-width="0.6"/>
<text x="285.90" y="151.67" font-size="3.3" text-anchor="end" fill="#111" font-weight="normal" stroke="#111" stroke-width="0.12">80</text>
<line x1="287.20" y1="160.94" x2="288.50" y2="160.94" stroke="#333" stroke-width="0.6"/>
<text x="285.90" y="162.09" font-size="3.3" text-anchor="end" fill="#111" font-weight="normal" stroke="#111" stroke-width="0.12">60</text>
<line x1="287.20" y1="171.36" x2="288.50" y2="171.36" stroke="#333" stroke-width="0.6"/>
<text x="285.90" y="172.51" font-size="3.3" text-anchor="end" fill="#111" font-weight="normal" stroke="#111" stroke-width="0.12">40</text>
<line x1="287.20" y1="181.78" x2="288.50" y2="181.78" stroke="#333" stroke-width="0.6"/>
<text x="285.90" y="182.93" font-size="3.3" text-anchor="end" fill="#111" font-weight="normal" stroke="#111" stroke-width="0.12">20</text>
<line x1="287.20" y1="192.20" x2="288.50" y2="192.20" stroke="#333" stroke-width="0.6"/>
<text x="285.90" y="193.35" font-size="3.3" text-anchor="end" fill="#111" font-weight="normal" stroke="#111" stroke-width="0.12">0</text>
<line x1="287.20" y1="202.62" x2="288.50" y2="202.62" stroke="#333" stroke-width="0.6"/>
<text x="285.90" y="203.77" font-size="3.3" text-anchor="end" fill="#111" font-weight="normal" stroke="#111" stroke-width="0.12">−20</text>
<line x1="287.20" y1="213.04" x2="288.50" y2="213.04" stroke="#333" stroke-width="0.6"/>
<text x="285.90" y="214.19" font-size="3.3" text-anchor="end" fill="#111" font-weight="normal" stroke="#111" stroke-width="0.12">−40</text>
<line x1="287.20" y1="223.46" x2="288.50" y2="223.46" stroke="#333" stroke-width="0.6"/>
<text x="285.90" y="224.61" font-size="3.3" text-anchor="end" fill="#111" font-weight="normal" stroke="#111" stroke-width="0.12">−60</text>
<line x1="287.20" y1="233.88" x2="288.50" y2="233.88" stroke="#333" stroke-width="0.6"/>
<text x="285.90" y="235.03" font-size="3.3" text-anchor="end" fill="#111" font-weight="normal" stroke="#111" stroke-width="0.12">−80</text>
<line x1="287.20" y1="244.30" x2="288.50" y2="244.30" stroke="#333" stroke-width="0.6"/>
<text x="285.90" y="245.45" font-size="3.3" text-anchor="end" fill="#111" font-weight="normal" stroke="#111" stroke-width="0.12">−100</text>
<line x1="292.80" y1="248.50" x2="292.80" y2="249.70" stroke="#555" stroke-width="0.5"/>
<text x="292.80" y="254.70" font-size="3.5" text-anchor="middle" fill="#111" font-weight="bold" >Baseline</text>
<line x1="319.20" y1="248.50" x2="319.20" y2="249.70" stroke="#555" stroke-width="0.5"/>
<text x="319.20" y="254.70" font-size="3.5" text-anchor="middle" fill="#111" font-weight="bold" >Week 12</text>
<line x1="345.60" y1="248.50" x2="345.60" y2="249.70" stroke="#555" stroke-width="0.5"/>
<text x="345.60" y="254.70" font-size="3.5" text-anchor="middle" fill="#111" font-weight="bold" >Week 24</text>
<line x1="372.00" y1="248.50" x2="372.00" y2="249.70" stroke="#555" stroke-width="0.5"/>
<text x="372.00" y="254.70" font-size="3.5" text-anchor="middle" fill="#111" font-weight="bold" >Week 36</text>
<line x1="398.40" y1="248.50" x2="398.40" y2="249.70" stroke="#555" stroke-width="0.5"/>
<text x="398.40" y="254.70" font-size="3.5" text-anchor="middle" fill="#111" font-weight="bold" >Week 48</text>
<line x1="424.80" y1="248.50" x2="424.80" y2="249.70" stroke="#555" stroke-width="0.5"/>
<text x="424.80" y="254.70" font-size="3.5" text-anchor="middle" fill="#111" font-weight="bold" >Week 60</text>
<line x1="451.20" y1="248.50" x2="451.20" y2="249.70" stroke="#555" stroke-width="0.5"/>
<text x="451.20" y="254.70" font-size="3.5" text-anchor="middle" fill="#111" font-weight="bold" >Week 72</text>
<line x1="477.60" y1="248.50" x2="477.60" y2="249.70" stroke="#555" stroke-width="0.5"/>
<text x="477.60" y="254.70" font-size="3.5" text-anchor="middle" fill="#111" font-weight="bold" >Week 84</text>
<line x1="504.00" y1="248.50" x2="504.00" y2="249.70" stroke="#555" stroke-width="0.5"/>
<text x="504.00" y="254.70" font-size="3.5" text-anchor="middle" fill="#111" font-weight="bold" >Week 96</text>
<text x="398.70" y="261.00" font-size="4.3" text-anchor="middle" fill="#111" font-weight="normal" stroke="#111" stroke-width="0.12">Weeks from baseline</text>
<text x="0" y="0" font-size="4.3" text-anchor="middle" fill="#111" stroke="#111" stroke-width="0.12" transform="translate(273.75,199.8) rotate(-90)">Change in sum of diameters from baseline (%)</text>
<text x="509.70" y="183.08" font-size="3.8" text-anchor="start" fill="#111" font-weight="normal" stroke="#111" stroke-width="0.12">+20%</text>
<text x="510.40" y="193.50" font-size="3.8" text-anchor="start" fill="#111" font-weight="normal" stroke="#111" stroke-width="0.12">0</text>
<text x="510.80" y="209.13" font-size="3.8" text-anchor="start" fill="#111" font-weight="normal" stroke="#111" stroke-width="0.12">−30%</text>
<circle cx="476.70" cy="150.00" r="0.75" fill="#333"/>
<text x="480.00" y="151.45" font-size="3.7" text-anchor="start" fill="#111" font-weight="normal" stroke="#111" stroke-width="0.12">On treatment</text>
<polyline points="292.70,192.20 305.10,192.20 321.70,174.40" fill="none" stroke="#e46a5c" stroke-width="0.6" stroke-linejoin="round" />
<circle cx="292.70" cy="192.20" r="0.8" fill="#c02828"/>
<circle cx="305.10" cy="192.20" r="0.8" fill="#c02828"/>
<circle cx="321.70" cy="174.40" r="0.8" fill="#c02828"/>
<polyline points="292.70,192.20 304.60,200.40 320.20,180.10" fill="none" stroke="#e46a5c" stroke-width="0.6" stroke-linejoin="round" />
<circle cx="292.70" cy="192.20" r="0.8" fill="#c02828"/>
<circle cx="304.60" cy="200.40" r="0.8" fill="#c02828"/>
<circle cx="320.20" cy="180.10" r="0.8" fill="#c02828"/>
<polyline points="292.70,192.20 305.10,192.20 319.40,192.20 332.80,201.10 345.40,200.80 363.30,200.80 382.60,200.80 401.30,201.00 439.00,195.00" fill="none" stroke="#e46a5c" stroke-width="0.6" stroke-linejoin="round" />
<circle cx="292.70" cy="192.20" r="0.8" fill="#c02828"/>
<circle cx="305.10" cy="192.20" r="0.8" fill="#c02828"/>
<circle cx="319.40" cy="192.20" r="0.8" fill="#c02828"/>
<circle cx="332.80" cy="201.10" r="0.8" fill="#c02828"/>
<circle cx="345.40" cy="200.80" r="0.8" fill="#c02828"/>
<circle cx="363.30" cy="200.80" r="0.8" fill="#c02828"/>
<circle cx="382.60" cy="200.80" r="0.8" fill="#c02828"/>
<circle cx="401.30" cy="201.00" r="0.8" fill="#c02828"/>
<circle cx="439.00" cy="195.00" r="0.8" fill="#c02828"/>
<polyline points="292.70,192.20 305.50,204.00 319.60,204.80 323.90,203.80 334.30,195.50 346.10,184.40" fill="none" stroke="#e46a5c" stroke-width="0.6" stroke-linejoin="round" />
<circle cx="292.70" cy="192.20" r="0.8" fill="#c02828"/>
<circle cx="305.50" cy="204.00" r="0.8" fill="#c02828"/>
<circle cx="319.60" cy="204.80" r="0.8" fill="#c02828"/>
<circle cx="323.90" cy="203.80" r="0.8" fill="#c02828"/>
<circle cx="334.30" cy="195.50" r="0.8" fill="#c02828"/>
<circle cx="346.10" cy="184.40" r="0.8" fill="#c02828"/>
<polyline points="292.70,192.20 305.10,200.40 318.00,205.80 328.00,200.00 336.50,192.20 345.40,200.80 363.30,200.80 382.60,200.80 409.00,200.80" fill="none" stroke="#e46a5c" stroke-width="0.6" stroke-linejoin="round" />
<circle cx="292.70" cy="192.20" r="0.8" fill="#c02828"/>
<circle cx="305.10" cy="200.40" r="0.8" fill="#c02828"/>
<circle cx="318.00" cy="205.80" r="0.8" fill="#c02828"/>
<circle cx="328.00" cy="200.00" r="0.8" fill="#c02828"/>
<circle cx="336.50" cy="192.20" r="0.8" fill="#c02828"/>
<circle cx="345.40" cy="200.80" r="0.8" fill="#c02828"/>
<circle cx="363.30" cy="200.80" r="0.8" fill="#c02828"/>
<circle cx="382.60" cy="200.80" r="0.8" fill="#c02828"/>
<circle cx="409.00" cy="200.80" r="0.8" fill="#c02828"/>
<polyline points="292.70,192.20 305.50,204.00 313.50,205.20 320.60,204.20 333.80,196.00" fill="none" stroke="#e46a5c" stroke-width="0.6" stroke-linejoin="round" />
<circle cx="292.70" cy="192.20" r="0.8" fill="#c02828"/>
<circle cx="305.50" cy="204.00" r="0.8" fill="#c02828"/>
<circle cx="313.50" cy="205.20" r="0.8" fill="#c02828"/>
<circle cx="320.60" cy="204.20" r="0.8" fill="#c02828"/>
<circle cx="333.80" cy="196.00" r="0.8" fill="#c02828"/>
<polyline points="292.70,192.20 305.50,204.00 321.00,209.20 334.20,215.00 347.60,196.10 361.00,187.60" fill="none" stroke="#4555c0" stroke-width="0.6" stroke-linejoin="round" />
<circle cx="292.70" cy="192.20" r="0.8" fill="#1c2490"/>
<circle cx="305.50" cy="204.00" r="0.8" fill="#1c2490"/>
<circle cx="321.00" cy="209.20" r="0.8" fill="#1c2490"/>
<circle cx="334.20" cy="215.00" r="0.8" fill="#1c2490"/>
<circle cx="347.60" cy="196.10" r="0.8" fill="#1c2490"/>
<circle cx="361.00" cy="187.60" r="0.8" fill="#1c2490"/>
<polyline points="292.70,192.20 305.50,208.90 321.00,209.20 333.30,208.30 347.50,208.30 361.70,208.30 375.00,209.00 395.00,212.40 401.30,215.10 413.90,213.10 459.30,215.10" fill="none" stroke="#4555c0" stroke-width="0.6" stroke-linejoin="round" />
<circle cx="292.70" cy="192.20" r="0.8" fill="#1c2490"/>
<circle cx="305.50" cy="208.90" r="0.8" fill="#1c2490"/>
<circle cx="321.00" cy="209.20" r="0.8" fill="#1c2490"/>
<circle cx="333.30" cy="208.30" r="0.8" fill="#1c2490"/>
<circle cx="347.50" cy="208.30" r="0.8" fill="#1c2490"/>
<circle cx="361.70" cy="208.30" r="0.8" fill="#1c2490"/>
<circle cx="375.00" cy="209.00" r="0.8" fill="#1c2490"/>
<circle cx="395.00" cy="212.40" r="0.8" fill="#1c2490"/>
<circle cx="401.30" cy="215.10" r="0.8" fill="#1c2490"/>
<circle cx="413.90" cy="213.10" r="0.8" fill="#1c2490"/>
<circle cx="459.30" cy="215.10" r="0.8" fill="#1c2490"/>
<path d="M460.02,214.29 L461.91,215.10 L460.02,215.91 Z" fill="#1c2490"/>
<polyline points="292.70,192.20 304.80,217.40 321.00,213.70 333.30,220.00 347.50,221.70 360.80,225.00 375.00,228.30 400.00,230.20 414.00,230.70 437.90,228.20 465.60,227.70" fill="none" stroke="#4555c0" stroke-width="0.6" stroke-linejoin="round" />
<circle cx="292.70" cy="192.20" r="0.8" fill="#1c2490"/>
<circle cx="304.80" cy="217.40" r="0.8" fill="#1c2490"/>
<circle cx="321.00" cy="213.70" r="0.8" fill="#1c2490"/>
<circle cx="333.30" cy="220.00" r="0.8" fill="#1c2490"/>
<circle cx="347.50" cy="221.70" r="0.8" fill="#1c2490"/>
<circle cx="360.80" cy="225.00" r="0.8" fill="#1c2490"/>
<circle cx="375.00" cy="228.30" r="0.8" fill="#1c2490"/>
<circle cx="400.00" cy="230.20" r="0.8" fill="#1c2490"/>
<circle cx="414.00" cy="230.70" r="0.8" fill="#1c2490"/>
<circle cx="437.90" cy="228.20" r="0.8" fill="#1c2490"/>
<circle cx="465.60" cy="227.70" r="0.8" fill="#1c2490"/>
<path d="M466.32,226.89 L468.21,227.70 L466.32,228.51 Z" fill="#1c2490"/>
<polyline points="292.70,192.20 304.80,219.60 321.00,216.60 333.60,221.00 347.50,222.50 360.00,211.70" fill="none" stroke="#4555c0" stroke-width="0.6" stroke-linejoin="round" />
<circle cx="292.70" cy="192.20" r="0.8" fill="#1c2490"/>
<circle cx="304.80" cy="219.60" r="0.8" fill="#1c2490"/>
<circle cx="321.00" cy="216.60" r="0.8" fill="#1c2490"/>
<circle cx="333.60" cy="221.00" r="0.8" fill="#1c2490"/>
<circle cx="347.50" cy="222.50" r="0.8" fill="#1c2490"/>
<circle cx="360.00" cy="211.70" r="0.8" fill="#1c2490"/>
<polyline points="292.70,192.20 305.50,219.60 319.20,225.80 332.50,225.80 347.50,222.50 370.00,220.80 398.80,224.40 412.20,226.90 439.10,223.90 465.60,222.70" fill="none" stroke="#4555c0" stroke-width="0.6" stroke-linejoin="round" />
<circle cx="292.70" cy="192.20" r="0.8" fill="#1c2490"/>
<circle cx="305.50" cy="219.60" r="0.8" fill="#1c2490"/>
<circle cx="319.20" cy="225.80" r="0.8" fill="#1c2490"/>
<circle cx="332.50" cy="225.80" r="0.8" fill="#1c2490"/>
<circle cx="347.50" cy="222.50" r="0.8" fill="#1c2490"/>
<circle cx="370.00" cy="220.80" r="0.8" fill="#1c2490"/>
<circle cx="398.80" cy="224.40" r="0.8" fill="#1c2490"/>
<circle cx="412.20" cy="226.90" r="0.8" fill="#1c2490"/>
<circle cx="439.10" cy="223.90" r="0.8" fill="#1c2490"/>
<circle cx="465.60" cy="222.70" r="0.8" fill="#1c2490"/>
<path d="M466.32,221.89 L468.21,222.70 L466.32,223.51 Z" fill="#1c2490"/>
<polyline points="292.70,192.20 304.50,226.00 318.30,235.00 331.70,230.80 345.00,230.80 360.00,230.80" fill="none" stroke="#4555c0" stroke-width="0.6" stroke-linejoin="round" />
<circle cx="292.70" cy="192.20" r="0.8" fill="#1c2490"/>
<circle cx="304.50" cy="226.00" r="0.8" fill="#1c2490"/>
<circle cx="318.30" cy="235.00" r="0.8" fill="#1c2490"/>
<circle cx="331.70" cy="230.80" r="0.8" fill="#1c2490"/>
<circle cx="345.00" cy="230.80" r="0.8" fill="#1c2490"/>
<circle cx="360.00" cy="230.80" r="0.8" fill="#1c2490"/>
<polyline points="292.70,192.20 305.30,234.70 319.00,235.50 331.80,243.90 346.00,243.90 358.50,243.90 372.00,243.90 385.00,243.90 398.80,243.90 412.20,243.90 439.10,243.90" fill="none" stroke="#4555c0" stroke-width="0.6" stroke-linejoin="round" />
<circle cx="292.70" cy="192.20" r="0.8" fill="#1c2490"/>
<circle cx="305.30" cy="234.70" r="0.8" fill="#1c2490"/>
<circle cx="319.00" cy="235.50" r="0.8" fill="#1c2490"/>
<circle cx="331.80" cy="243.90" r="0.8" fill="#1c2490"/>
<circle cx="346.00" cy="243.90" r="0.8" fill="#1c2490"/>
<circle cx="358.50" cy="243.90" r="0.8" fill="#1c2490"/>
<circle cx="372.00" cy="243.90" r="0.8" fill="#1c2490"/>
<circle cx="385.00" cy="243.90" r="0.8" fill="#1c2490"/>
<circle cx="398.80" cy="243.90" r="0.8" fill="#1c2490"/>
<circle cx="412.20" cy="243.90" r="0.8" fill="#1c2490"/>
<circle cx="439.10" cy="243.90" r="0.8" fill="#1c2490"/>
<path d="M439.82,243.09 L441.71,243.90 L439.82,244.71 Z" fill="#1c2490"/>
<polyline points="292.70,192.20 307.80,195.60 321.00,216.60 333.30,220.80 347.50,221.70 360.80,221.50 375.00,219.70 391.70,221.00" fill="none" stroke="#4555c0" stroke-width="0.6" stroke-linejoin="round" />
<circle cx="292.70" cy="192.20" r="0.8" fill="#1c2490"/>
<circle cx="307.80" cy="195.60" r="0.8" fill="#1c2490"/>
<circle cx="321.00" cy="216.60" r="0.8" fill="#1c2490"/>
<circle cx="333.30" cy="220.80" r="0.8" fill="#1c2490"/>
<circle cx="347.50" cy="221.70" r="0.8" fill="#1c2490"/>
<circle cx="360.80" cy="221.50" r="0.8" fill="#1c2490"/>
<circle cx="375.00" cy="219.70" r="0.8" fill="#1c2490"/>
<circle cx="391.70" cy="221.00" r="0.8" fill="#1c2490"/>
<polyline points="292.70,192.20 305.50,208.90 318.80,225.50 333.60,218.80 347.50,221.70 360.00,225.30 375.00,226.00 398.80,224.40" fill="none" stroke="#4555c0" stroke-width="0.6" stroke-linejoin="round" />
<circle cx="292.70" cy="192.20" r="0.8" fill="#1c2490"/>
<circle cx="305.50" cy="208.90" r="0.8" fill="#1c2490"/>
<circle cx="318.80" cy="225.50" r="0.8" fill="#1c2490"/>
<circle cx="333.60" cy="218.80" r="0.8" fill="#1c2490"/>
<circle cx="347.50" cy="221.70" r="0.8" fill="#1c2490"/>
<circle cx="360.00" cy="225.30" r="0.8" fill="#1c2490"/>
<circle cx="375.00" cy="226.00" r="0.8" fill="#1c2490"/>
<circle cx="398.80" cy="224.40" r="0.8" fill="#1c2490"/>
<polyline points="292.70,192.20 305.50,211.90 318.80,225.50 331.80,224.50 360.00,224.00 395.00,224.00 439.00,223.90 465.00,223.90" fill="none" stroke="#7cb870" stroke-width="0.6" stroke-linejoin="round" />
<circle cx="292.70" cy="192.20" r="0.8" fill="#2f6e2a"/>
<circle cx="305.50" cy="211.90" r="0.8" fill="#2f6e2a"/>
<circle cx="318.80" cy="225.50" r="0.8" fill="#2f6e2a"/>
<circle cx="331.80" cy="224.50" r="0.8" fill="#2f6e2a"/>
<circle cx="360.00" cy="224.00" r="0.8" fill="#2f6e2a"/>
<circle cx="395.00" cy="224.00" r="0.8" fill="#2f6e2a"/>
<circle cx="439.00" cy="223.90" r="0.8" fill="#2f6e2a"/>
<circle cx="465.00" cy="223.90" r="0.8" fill="#2f6e2a"/>
<path d="M465.72,223.09 L467.61,223.90 L465.72,224.71 Z" fill="#2f6e2a"/>
<rect x="366.10" y="266.40" width="1.80" height="1.80" fill="#c02828" />
<text x="368.70" y="268.60" font-size="3.3" text-anchor="start" fill="#111" font-weight="normal" stroke="#111" stroke-width="0.12">SD (n = 13)</text>
<rect x="388.30" y="266.40" width="1.80" height="1.80" fill="#1c2490" />
<text x="391.30" y="268.60" font-size="3.3" text-anchor="start" fill="#111" font-weight="normal" stroke="#111" stroke-width="0.12">PR (n = 10)</text>
<rect x="411.80" y="266.40" width="1.80" height="1.80" fill="#2f6e2a" />
<text x="414.80" y="268.60" font-size="3.3" text-anchor="start" fill="#111" font-weight="normal" stroke="#111" stroke-width="0.12">CR (n = 1)</text>
</svg>
</body></html>
